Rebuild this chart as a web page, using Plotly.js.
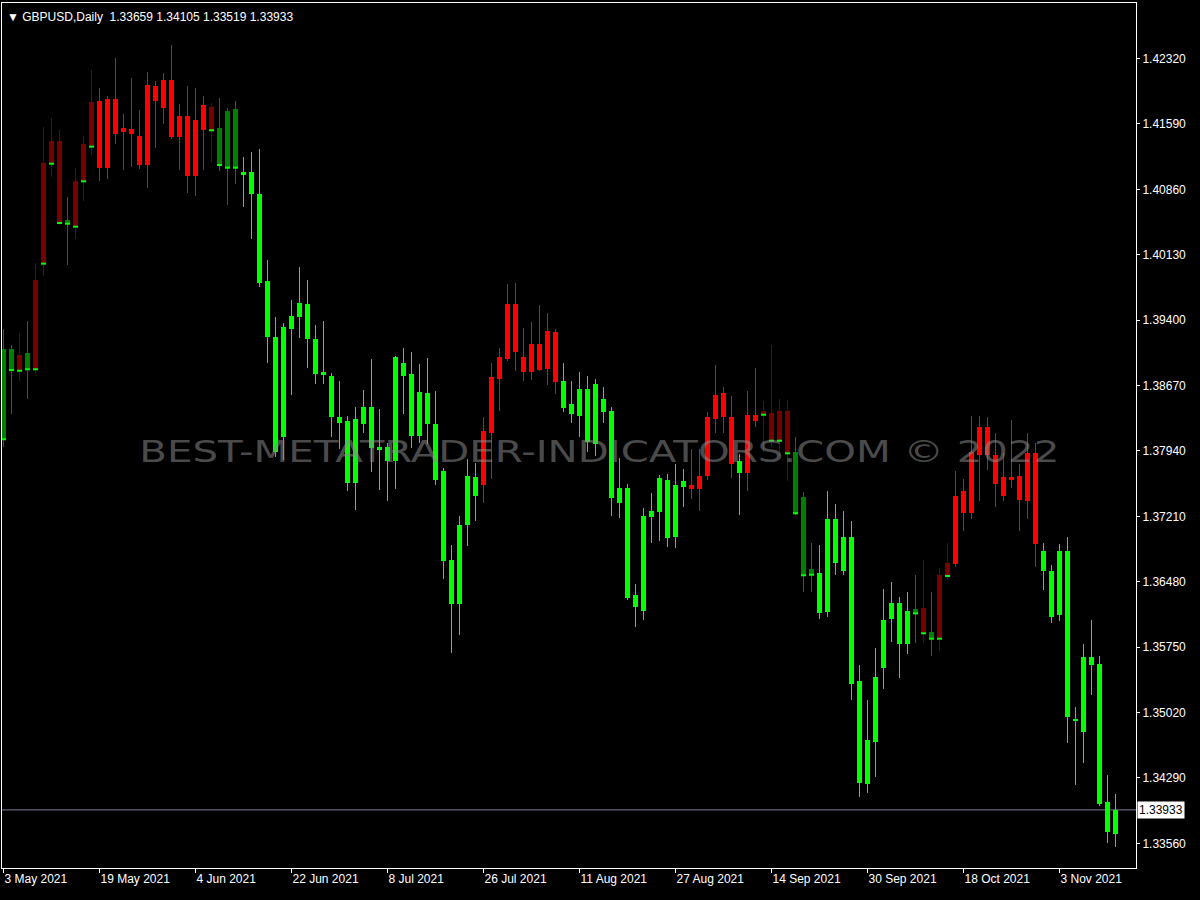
<!DOCTYPE html>
<html>
<head>
<meta charset="utf-8">
<script src="https://cdn.plot.ly/plotly-3.0.1.min.js"></script>
<style>
html,body{margin:0;padding:0;background:#000;}
#chart{width:1200px;height:900px;}
</style>
</head>
<body>
<div id="chart"></div>
<script>
// ---- data ----
const symbolName = 'GBPUSD,Daily';
const watermarkText = 'BEST-METATRADER-INDICATORS.COM \u00a9 2022';
const dateLabels = ['3 May 2021','19 May 2021','4 Jun 2021','22 Jun 2021','8 Jul 2021','26 Jul 2021','11 Aug 2021','27 Aug 2021','14 Sep 2021','30 Sep 2021','18 Oct 2021','3 Nov 2021'];
const dateLabelBars = [0,12,24,36,48,60,72,84,96,108,120,132];
const priceTicks = [1.42320,1.41590,1.40860,1.40130,1.39400,1.38670,1.37940,1.37210,1.36480,1.35750,1.35020,1.34290,1.33560];

const open = [
1.38070,1.39074,1.38835,1.39030,1.38851,1.40030,1.41146,1.41399,1.40476,1.40443,
1.40949,1.41336,1.41846,1.41101,1.41871,1.41503,1.41530,1.41455,1.41131,1.42010,
1.41771,1.42080,1.41444,1.41678,1.41012,1.41519,1.41782,1.41548,1.41101,1.41756,
1.41056,1.41056,1.40804,1.39833,1.39211,1.38099,1.39301,1.39435,1.39583,1.39192,
1.38791,1.38776,1.38315,1.38270,1.37585,1.38244,1.38433,1.37961,1.37987,1.37827,
1.38925,1.38795,1.38110,1.38583,1.38240,1.37719,1.36722,1.36235,1.37113,1.37649,
1.37559,1.38140,1.38746,1.38969,1.39580,1.38985,1.38824,1.39133,1.38851,1.39267,
1.38717,1.38464,1.38333,1.38628,1.38020,1.38523,1.38389,1.37362,1.37526,1.36335,
1.36156,1.37199,1.37261,1.37615,1.36979,1.37540,1.37556,1.37515,1.37660,1.38300,
1.38583,1.38315,1.37824,1.37690,1.38344,1.38344,1.38360,1.38054,1.38389,1.37928,
1.37422,1.36558,1.36574,1.36142,1.37183,1.36603,1.36976,1.35368,1.34222,1.34694,
1.35517,1.36067,1.36246,1.35785,1.36127,1.36187,1.35919,1.35844,1.36544,1.36678,
1.37496,1.37244,1.37898,1.38210,1.37898,1.37437,1.37645,1.37660,1.37377,1.37913,
1.36826,1.36603,1.36108,1.36826,1.34951,1.34802,1.35636,1.35561,1.34024,1.33659];

const high = [
1.39297,1.39122,1.39253,1.39390,1.40041,1.41559,1.41653,1.41522,1.40774,1.41101,
1.41455,1.42192,1.41994,1.41901,1.42322,1.41697,1.42099,1.41742,1.42169,1.42069,
1.42158,1.42471,1.41812,1.42010,1.41991,1.41901,1.41827,1.41876,1.41764,1.41846,
1.41221,1.41280,1.41307,1.40071,1.39431,1.39364,1.39624,1.39996,1.39848,1.39342,
1.39390,1.38806,1.38720,1.38330,1.38433,1.38620,1.38969,1.38404,1.38025,1.38995,
1.39092,1.39044,1.38910,1.38974,1.38612,1.37749,1.36886,1.37213,1.37853,1.37802,
1.38322,1.38925,1.39089,1.39803,1.39818,1.39312,1.39375,1.39565,1.39476,1.39297,
1.38925,1.38717,1.38821,1.38776,1.38739,1.38657,1.38433,1.37857,1.37567,1.36454,
1.37299,1.37467,1.37668,1.37682,1.37794,1.37735,1.37958,1.37965,1.38374,1.38896,
1.38657,1.38553,1.37902,1.38612,1.38865,1.38494,1.39122,1.38523,1.38508,1.38099,
1.37481,1.36915,1.36886,1.37496,1.37347,1.37273,1.37154,1.35547,1.35160,1.35740,
1.36395,1.36473,1.36309,1.36365,1.36558,1.36722,1.36365,1.36633,1.36912,1.37719,
1.37630,1.38330,1.38330,1.38315,1.38137,1.37913,1.38285,1.37794,1.38137,1.38032,
1.36915,1.36663,1.36901,1.36976,1.35085,1.35785,1.36053,1.35651,1.34322,1.34105];

const low = [
1.37980,1.38349,1.38717,1.38523,1.38806,1.39896,1.40997,1.40458,1.40012,1.40309,
1.40726,1.41246,1.40953,1.40972,1.41369,1.41072,1.41112,1.41087,1.40878,1.41324,
1.41592,1.41422,1.41072,1.40815,1.40785,1.41075,1.41161,1.41061,1.40685,1.40923,
1.40659,1.40302,1.39773,1.38918,1.37875,1.37838,1.38561,1.39204,1.38862,1.38683,
1.38683,1.38099,1.37961,1.37492,1.37280,1.38137,1.37701,1.37504,1.37381,1.37518,
1.38352,1.37969,1.38025,1.38017,1.37559,1.36514,1.35681,1.35882,1.36879,1.37158,
1.37359,1.37630,1.38389,1.38940,1.38835,1.38720,1.38731,1.38829,1.38672,1.38572,
1.38374,1.38248,1.38099,1.37924,1.37883,1.38248,1.37217,1.37191,1.36276,1.35978,
1.36053,1.36909,1.36938,1.36864,1.36856,1.37317,1.37400,1.37273,1.37615,1.38137,
1.38137,1.37634,1.37221,1.37496,1.38210,1.37928,1.37987,1.37886,1.37601,1.37228,
1.36365,1.36365,1.36060,1.36083,1.36552,1.36552,1.35160,1.34080,1.34125,1.34303,
1.35286,1.35807,1.35405,1.35673,1.35799,1.35799,1.35651,1.35710,1.36499,1.36641,
1.37049,1.37177,1.37377,1.37727,1.37317,1.37377,1.37526,1.37049,1.37183,1.36648,
1.36384,1.36016,1.36045,1.34676,1.34214,1.34460,1.35212,1.33976,1.33560,1.33519];

const close = [
1.39074,1.38843,1.39014,1.38851,1.39848,1.41157,1.41399,1.40484,1.40517,1.40953,
1.41366,1.41831,1.41101,1.41871,1.41474,1.41544,1.41474,1.41131,1.42024,1.41846,
1.42080,1.41444,1.41678,1.41012,1.41634,1.41801,1.41519,1.41131,1.41737,1.41101,
1.41023,1.40804,1.39818,1.39208,1.37931,1.39326,1.39446,1.39594,1.39192,1.38795,
1.38821,1.38322,1.38255,1.37585,1.38300,1.38433,1.37976,1.37980,1.37827,1.38985,
1.38779,1.38110,1.38598,1.38244,1.37619,1.36711,1.36235,1.37110,1.37660,1.37440,
1.38166,1.38762,1.38985,1.39580,1.39047,1.38824,1.39133,1.38846,1.39282,1.38706,
1.38422,1.38349,1.38628,1.38039,1.38687,1.38374,1.37411,1.37526,1.36301,1.36201,
1.37213,1.37273,1.37634,1.36965,1.37556,1.37601,1.37511,1.37660,1.38315,1.38567,
1.38315,1.37797,1.37690,1.38344,1.38270,1.38389,1.38054,1.38389,1.37913,1.37244,
1.36552,1.36619,1.36127,1.37183,1.36692,1.36976,1.35338,1.34237,1.34713,1.35413,
1.36053,1.36246,1.35785,1.36156,1.36172,1.35904,1.35844,1.36558,1.36692,1.37437,
1.37244,1.37928,1.38210,1.37898,1.37571,1.37645,1.37615,1.37392,1.37913,1.36901,
1.36603,1.36083,1.36826,1.34967,1.34922,1.35636,1.35547,1.33999,1.33686,1.33933];

// indicator colour class of each candle: G bright green, DG dark green, R red, DR dark red
const colorClass = [
'DG','DG','DR','DG','DR','DR','DR','DR','DG','DR',
'DR','DR','R','R','R','R','R','R','R','R',
'R','R','R','R','R','R','DR','DG','DG','DG',
'G','G','G','G','G','G','G','G','G','G',
'G','G','G','G','G','G','G','G','G','G',
'G','G','G','G','G','G','G','G','G','G',
'R','R','R','R','R','R','R','R','R','R',
'G','G','G','G','G','G','G','G','G','G',
'G','G','G','G','G','G','R','R','R','R',
'R','R','G','R','R','DR','DR','DR','DR','DG',
'DG','DG','G','G','G','G','G','G','G','G',
'G','G','G','G','DG','DR','DG','DR','DR','R',
'R','R','R','R','R','R','R','R','R','R',
'G','G','G','G','G','G','G','G','G','G'];

// ---- build traces ----
const palette = {G:'#00ff00', DG:'#008000', R:'#ff0000', DR:'#760000'};
const n = close.length;
const idx = close.map((_, i) => i);
const colors = colorClass.map(c => palette[c]);
const bodyLow = idx.map(i => Math.min(open[i], close[i]));
const bodyHigh = idx.map(i => Math.max(open[i], close[i]));

const wickTrace = {
  type:'bar', x: idx, base: low, y: idx.map(i => high[i] - low[i]),
  width: 0.11, marker:{color: colors, line:{width:0}},
  hoverinfo:'skip', showlegend:false
};
const bodyTrace = {
  type:'bar', x: idx, base: bodyLow, y: idx.map(i => bodyHigh[i] - bodyLow[i]),
  width: 0.62, marker:{color: colors, line:{width:0}},
  hoverinfo:'skip', showlegend:false
};
const darkIdx = idx.filter(i => colorClass[i] === 'DG' || colorClass[i] === 'DR');
const markTrace = {
  type:'scatter', mode:'markers', x: darkIdx, y: darkIdx.map(i => bodyLow[i]),
  marker:{symbol:'line-ew', size:3.6, color:'#00ff00', line:{width:2, color:'#00ff00'}},
  hoverinfo:'skip', showlegend:false, cliponaxis:true
};

const lastClose = close[n-1];
const headerText = '\u25BC ' + symbolName + '\u00a0\u00a0' +
  [open[n-1], high[n-1], low[n-1], close[n-1]].map(v => v.toFixed(5)).join(' ');

const font = 'Liberation Sans, Arial, sans-serif';

const layout = {
  width:1200, height:900,
  margin:{l:2, r:64, t:3, b:32, pad:0},
  paper_bgcolor:'#000000', plot_bgcolor:'#000000',
  barmode:'overlay', bargap:0,
  showlegend:false,
  hovermode:false,
  xaxis:{
    range:[-0.1875, 141.5625], fixedrange:true,
    showgrid:false, zeroline:false,
    showline:true, mirror:true, linecolor:'#ffffff', linewidth:1,
    tickmode:'array', tickvals:dateLabelBars, ticktext:dateLabels,
    ticks:'outside', ticklen:4, tickcolor:'#ffffff', tickwidth:1,
    ticklabelposition:'outside right',
    tickfont:{family:font, size:12, color:'#ffffff'}
  },
  yaxis:{
    side:'right', range:[1.332844, 1.429395], fixedrange:true,
    showgrid:false, zeroline:false,
    showline:true, mirror:true, linecolor:'#ffffff', linewidth:1,
    tickmode:'array', tickvals:priceTicks, ticktext:priceTicks.map(v => v.toFixed(5)),
    ticks:'outside', ticklen:3, tickcolor:'#ffffff', tickwidth:1,
    tickfont:{family:font, size:12, color:'#ffffff'}
  },
  shapes:[{
    type:'line', xref:'paper', x0:0, x1:1, yref:'y', y0:lastClose, y1:lastClose,
    line:{color:'#7d7899', width:1}, layer:'below'
  }],
  annotations:[
    {
      xref:'paper', yref:'paper', x:0, y:1, xanchor:'left', yanchor:'top',
      xshift:3, yshift:-5, showarrow:false, text:headerText,
      font:{family:font, size:12, color:'#ffffff'}
    },
    {
      xref:'paper', yref:'y', x:1, y:lastClose, xanchor:'left', yanchor:'middle',
      xshift:1, showarrow:false, text:lastClose.toFixed(5),
      bgcolor:'#ffffff', borderpad:1,
      font:{family:font, size:12, color:'#000000'}
    },
    {
      xref:'paper', yref:'paper', x:0.527, y:0.482, xanchor:'center', yanchor:'middle',
      showarrow:false, text:watermarkText, name:'watermark',
      font:{family:'DejaVu Sans, sans-serif', size:30, color:'rgba(140,140,140,0.55)'}
    }
  ]
};

Plotly.newPlot('chart', [wickTrace, bodyTrace, markTrace], layout, {displayModeBar:false, responsive:false})
.then(gd => {
  const texts = gd.querySelectorAll('.annotation-text');
  texts.forEach(t => {
    if (t.textContent.indexOf('METATRADER') >= 0) {
      t.setAttribute('textLength', '920');
      t.setAttribute('lengthAdjust', 'spacingAndGlyphs');
    }
  });
});
</script>
</body>
</html>
